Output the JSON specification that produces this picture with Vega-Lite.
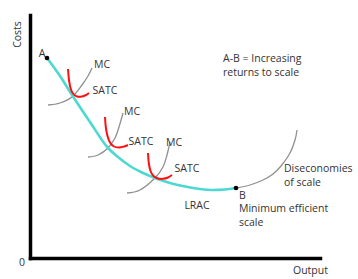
{
  "$schema": "https://vega.github.io/schema/vega-lite/v6.json",
  "width": 290,
  "height": 243,
  "autosize": "none",
  "padding": {"left": 30, "top": 15, "right": 38, "bottom": 21},
  "background": "white",
  "config": {
    "view": {"stroke": null},
    "text": {"font": "Open Sans", "fontSize": 10.5, "color": "#333333"}
  },
  "datasets": {
    "curves": [
      {"curve": "LRAC", "x": 17, "y": 200},
      {"curve": "LRAC", "x": 30, "y": 182},
      {"curve": "LRAC", "x": 42, "y": 163},
      {"curve": "LRAC", "x": 60, "y": 136},
      {"curve": "LRAC", "x": 78, "y": 110},
      {"curve": "LRAC", "x": 88, "y": 101},
      {"curve": "LRAC", "x": 100, "y": 92},
      {"curve": "LRAC", "x": 112, "y": 85.5},
      {"curve": "LRAC", "x": 125, "y": 80},
      {"curve": "LRAC", "x": 140, "y": 75},
      {"curve": "LRAC", "x": 155, "y": 71.5},
      {"curve": "LRAC", "x": 170, "y": 69},
      {"curve": "LRAC", "x": 183, "y": 68},
      {"curve": "LRAC", "x": 195, "y": 68.5},
      {"curve": "LRAC", "x": 206, "y": 70},
      {"curve": "Diseconomies", "x": 206, "y": 70},
      {"curve": "Diseconomies", "x": 220, "y": 73},
      {"curve": "Diseconomies", "x": 233, "y": 78},
      {"curve": "Diseconomies", "x": 243, "y": 84},
      {"curve": "Diseconomies", "x": 251, "y": 92},
      {"curve": "Diseconomies", "x": 260, "y": 105},
      {"curve": "Diseconomies", "x": 265, "y": 118},
      {"curve": "Diseconomies", "x": 267, "y": 128},
      {"curve": "MC1", "x": 18, "y": 153},
      {"curve": "MC1", "x": 30, "y": 155},
      {"curve": "MC1", "x": 42, "y": 161},
      {"curve": "MC1", "x": 52, "y": 173},
      {"curve": "MC1", "x": 58, "y": 182},
      {"curve": "MC1", "x": 62, "y": 190},
      {"curve": "MC2", "x": 58, "y": 101},
      {"curve": "MC2", "x": 68, "y": 103},
      {"curve": "MC2", "x": 78, "y": 110},
      {"curve": "MC2", "x": 85, "y": 120},
      {"curve": "MC2", "x": 89, "y": 131},
      {"curve": "MC2", "x": 93, "y": 145},
      {"curve": "MC3", "x": 97, "y": 65},
      {"curve": "MC3", "x": 110, "y": 68},
      {"curve": "MC3", "x": 125, "y": 80},
      {"curve": "MC3", "x": 133, "y": 91},
      {"curve": "MC3", "x": 137, "y": 103},
      {"curve": "MC3", "x": 140, "y": 116},
      {"curve": "SATC1", "x": 38, "y": 189},
      {"curve": "SATC1", "x": 39, "y": 178},
      {"curve": "SATC1", "x": 40.5, "y": 170},
      {"curve": "SATC1", "x": 43, "y": 164.5},
      {"curve": "SATC1", "x": 47, "y": 161.5},
      {"curve": "SATC1", "x": 52, "y": 161.5},
      {"curve": "SATC1", "x": 56, "y": 163},
      {"curve": "SATC1", "x": 59, "y": 165},
      {"curve": "SATC2", "x": 75, "y": 141},
      {"curve": "SATC2", "x": 75.8, "y": 131},
      {"curve": "SATC2", "x": 77.5, "y": 122},
      {"curve": "SATC2", "x": 80, "y": 115.5},
      {"curve": "SATC2", "x": 84, "y": 111.5},
      {"curve": "SATC2", "x": 89, "y": 110.5},
      {"curve": "SATC2", "x": 94, "y": 111.5},
      {"curve": "SATC2", "x": 98, "y": 113},
      {"curve": "SATC3", "x": 118, "y": 105},
      {"curve": "SATC3", "x": 118.8, "y": 95},
      {"curve": "SATC3", "x": 120.5, "y": 87},
      {"curve": "SATC3", "x": 123.5, "y": 82},
      {"curve": "SATC3", "x": 128, "y": 79.5},
      {"curve": "SATC3", "x": 133, "y": 79.2},
      {"curve": "SATC3", "x": 138, "y": 80.5},
      {"curve": "SATC3", "x": 142, "y": 83}
    ],
    "points": [
      {"name": "A", "x": 17, "y": 200},
      {"name": "B", "x": 206, "y": 70}
    ],
    "curveLabels": [
      {"label": "A", "x": 12, "y": 204},
      {"label": "MC", "x": 72, "y": 193},
      {"label": "SATC", "x": 75, "y": 167},
      {"label": "MC", "x": 102, "y": 146},
      {"label": "SATC", "x": 111, "y": 116},
      {"label": "MC", "x": 144, "y": 115},
      {"label": "SATC", "x": 157, "y": 89},
      {"label": "LRAC", "x": 167, "y": 52},
      {"label": "0", "x": -8, "y": -5}
    ],
    "notes": [
      {"label": "A-B = Increasing", "x": 193, "y": 199},
      {"label": "returns to scale", "x": 193, "y": 185},
      {"label": "Diseconomies", "x": 254, "y": 89},
      {"label": "of scale", "x": 254, "y": 75},
      {"label": "B", "x": 209, "y": 62.5},
      {"label": "Minimum efficient", "x": 209, "y": 49},
      {"label": "scale", "x": 209, "y": 35}
    ]
  },
  "encoding": {
    "x": {
      "field": "x", "type": "quantitative",
      "scale": {"domain": [0, 290], "nice": false, "zero": false},
      "axis": {
        "title": "Output", "ticks": false, "labels": false, "grid": false,
        "domainColor": "black", "domainWidth": 3.5, "domainCap": "square",
        "titleFont": "Open Sans", "titleFontSize": 10.5, "titleFontWeight": "normal", "titleColor": "#333333",
        "titleX": 280, "titleY": 12, "titleAlign": "center", "titleBaseline": "middle"
      }
    },
    "y": {
      "field": "y", "type": "quantitative",
      "scale": {"domain": [0, 243], "nice": false, "zero": false},
      "axis": {
        "title": "Costs", "ticks": false, "labels": false, "grid": false,
        "domainColor": "black", "domainWidth": 3.5, "domainCap": "square",
        "titleFont": "Open Sans", "titleFontSize": 10.5, "titleFontWeight": "normal", "titleColor": "#333333",
        "titleX": -13, "titleY": 19, "titleAlign": "center", "titleBaseline": "middle", "titleAngle": -90
      }
    }
  },
  "layer": [
    {
      "data": {"name": "curves"},
      "transform": [{"filter": "indexof(['MC1','MC2','MC3','Diseconomies'], datum.curve) >= 0"}],
      "mark": {"type": "line", "interpolate": "cardinal", "color": "#909090", "strokeWidth": 1.3},
      "encoding": {"detail": {"field": "curve"}}
    },
    {
      "data": {"name": "curves"},
      "transform": [{"filter": "datum.curve === 'LRAC'"}],
      "mark": {"type": "line", "interpolate": "monotone", "color": "#4dd9d2", "strokeWidth": 2.6},
      "encoding": {"detail": {"field": "curve"}}
    },
    {
      "data": {"name": "curves"},
      "transform": [{"filter": "indexof(['SATC1','SATC2','SATC3'], datum.curve) >= 0"}],
      "mark": {"type": "line", "interpolate": "cardinal", "color": "#ff1010", "strokeWidth": 2},
      "encoding": {"detail": {"field": "curve"}}
    },
    {
      "data": {"name": "points"},
      "mark": {"type": "point", "filled": true, "color": "black", "size": 22, "opacity": 1}
    },
    {
      "data": {"name": "curveLabels"},
      "mark": {"type": "text", "align": "center", "baseline": "middle"},
      "encoding": {"text": {"field": "label"}}
    },
    {
      "data": {"name": "notes"},
      "mark": {"type": "text", "align": "left", "baseline": "middle"},
      "encoding": {"text": {"field": "label"}}
    }
  ]
}
